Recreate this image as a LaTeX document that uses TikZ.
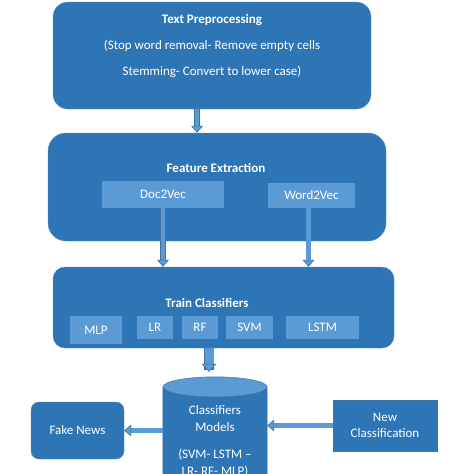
\documentclass[tikz,border=0pt]{standalone}
\usepackage{fontspec}
\setmainfont{Carlito}
\usetikzlibrary{arrows.meta}
\definecolor{boxblue}{HTML}{2E75B6}
\definecolor{subblue}{HTML}{5B9BD5}
\definecolor{edgeblue}{HTML}{41719C}

\begin{document}
\begin{tikzpicture}[x=1pt,y=-1pt,
    stage/.style={draw=boxblue!80!white, fill=boxblue, inner sep=0pt},
    method/.style={fill=subblue, inner sep=0pt, text=white, font=\fontsize{13}{16}\selectfont},
    boxtext/.style={text=white, align=center, font=\fontsize{13}{16}\selectfont},
    headtext/.style={text=white, font=\bfseries\fontsize{13}{16}\selectfont},
    % block arrows: light shaft with a thin dark edge
    flowarrow/.style={draw=subblue, line width=4.5pt,
        -{Triangle[width=12pt,length=7pt,line width=0.6pt,fill=subblue,color=edgeblue]},
        preaction={draw=edgeblue, line width=5.6pt, shorten >=6pt, -}},
    widearrow/.style={draw=subblue, line width=9pt,
        -{Triangle[width=15pt,length=8pt,line width=0.6pt,fill=subblue,color=edgeblue]},
        preaction={draw=edgeblue, line width=10pt, shorten >=7pt, -}},
    ]

\useasboundingbox (0,0) rectangle (474,474);
\clip (0,0) rectangle (474,474);
\fill[white] (0,0) rectangle (474,474);

%-------------------------------------------- Text preprocessing
\node[stage, rounded corners=15pt, minimum width=318pt, minimum height=107pt] (prep) at (212,55.5) {};
\node[boxtext, font=\fontsize{13}{26}\selectfont] (preptext) at (212,46)
    {\textbf{Text Preprocessing}\\(Stop word removal- Remove empty cells\\Stemming- Convert to lower case)};

%-------------------------------------------- Feature extraction
\node[stage, rounded corners=18pt, minimum width=338pt, minimum height=108pt] (feat) at (217,187) {};
\node[headtext] (feattitle) at (216,168) {Feature Extraction};
\node[method, minimum width=122pt, minimum height=27pt] (doc) at (163,194.5) {Doc2Vec};
\node[method, minimum width=87pt, minimum height=25pt] (word) at (311.5,195.5) {Word2Vec};

%-------------------------------------------- Train classifiers
\node[stage, rounded corners=12pt, minimum width=341pt, minimum height=81pt] (train) at (223.5,307.5) {};
\node[headtext] (traintitle) at (207,303) {Train Classifiers};
\node[method, minimum width=52pt, minimum height=28pt] (mlp) at (96,330) {MLP};
\node[method, minimum width=36pt, minimum height=23pt] (lr) at (155,327.5) {LR};
\node[method, minimum width=36pt, minimum height=23pt] (rf) at (200,327.5) {RF};
\node[method, minimum width=47pt, minimum height=23pt] (svm) at (249.5,327.5) {SVM};
\node[method, minimum width=73pt, minimum height=23pt] (lstm) at (322.5,327.5) {LSTM};

%-------------------------------------------- Models (cylinder), input and output
\node[minimum width=104pt, minimum height=130pt, inner sep=0pt] (models) at (215,442) {};
\filldraw[fill=boxblue, draw=edgeblue] ([yshift=-10pt]models.north west) -- (models.south west)
    -- (models.south east) -- ([yshift=-10pt]models.north east)
    arc[start angle=0, end angle=-180, x radius=52pt, y radius=10pt];   % body
\filldraw[fill=subblue, draw=edgeblue] ([yshift=-10pt]models.north) ellipse[x radius=52pt, y radius=10pt]; % top
\node[boxtext, font=\fontsize{13}{17}\selectfont] (modelstext) at (215,441)
    {Classifiers\\Models\\[10pt](SVM- LSTM --\\LR- RF- MLP)};

\node[stage, rounded corners=8pt, minimum width=93pt, minimum height=57pt, boxtext] (fake) at (77.5,430.5) {Fake News};
\node[stage, draw=edgeblue, minimum width=104pt, minimum height=51pt, boxtext] (newc) at (385,425.5) {New\\Classification};

%-------------------------------------------- Arrows
\draw[flowarrow] ([xshift=-15pt]prep.south) -- ([xshift=-20pt]feat.north);
\draw[flowarrow] (doc.south) -- (doc.south |- train.north);
\draw[flowarrow] ([xshift=-3pt]word.south) -- ([xshift=-3pt]word.south |- train.north);
\draw[widearrow, shorten >=5pt] ([xshift=-14.5pt]train.south) -- ([xshift=-6pt]models.north);
\draw[flowarrow] (models.west |- fake.east) -- (fake.east);
\draw[flowarrow] (newc.west) -- (newc.west -| models.east);

\end{tikzpicture}
\end{document}
